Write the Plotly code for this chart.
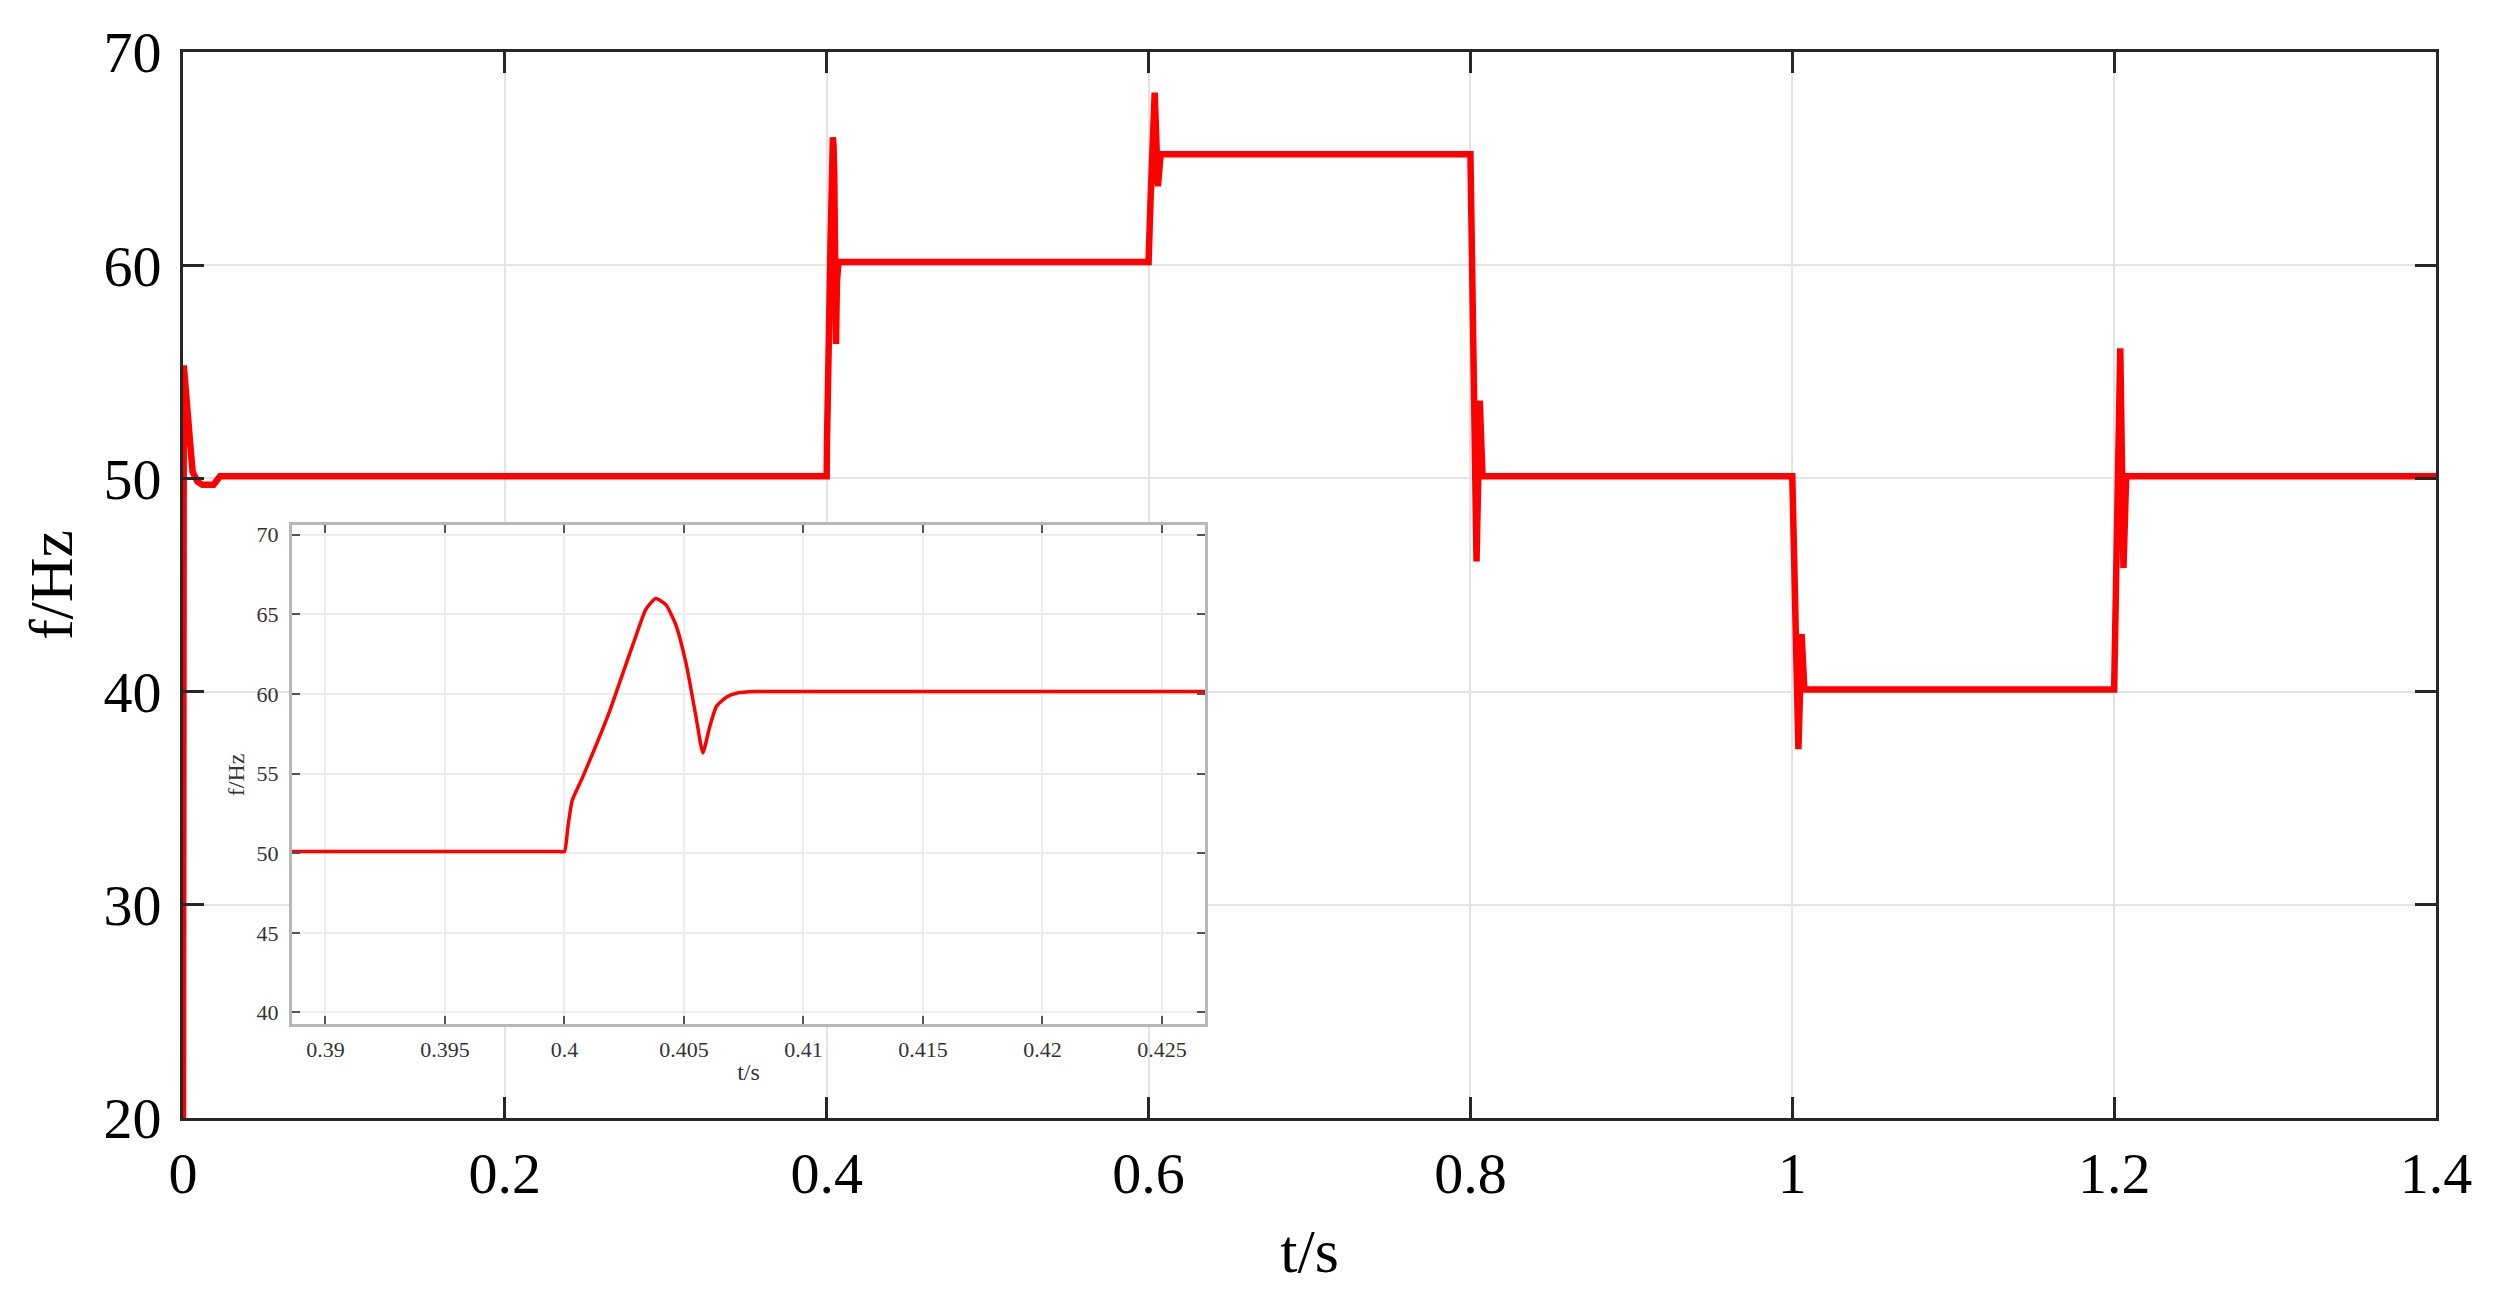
import plotly.graph_objects as go

# ---- data (t in s, f in Hz) ----
startup_t = [0.0, 0.0005, 0.0044, 0.006, 0.009, 0.012, 0.019, 0.023]
startup_f = [20.0, 55.3, 51.7, 50.3, 49.85, 49.7, 49.7, 50.1]

pre04_t = [0.385, 0.3998]
pre04_f = [50.1, 50.1]

step04_t = [0.4000, 0.40014, 0.40032, 0.40074, 0.4013, 0.40186, 0.40242, 0.40298,
            0.4034, 0.40382, 0.40425, 0.40467, 0.40509, 0.4055, 0.40579, 0.40607,
            0.40635, 0.40677, 0.40719, 0.40803]
step04_f = [50.1, 51.6, 53.3, 54.7, 56.7, 58.8, 61.2, 63.6,
            65.3, 66.0, 65.6, 64.3, 61.9, 58.6, 56.3, 57.9,
            59.2, 59.8, 60.05, 60.15]

post04_t = [0.4095, 0.43]
post04_f = [60.15, 60.15]

step06_t = [0.6, 0.6012, 0.6038, 0.6058, 0.6075]
step06_f = [60.15, 63.0, 68.1, 63.7, 65.2]

step08_t = [0.8, 0.8038, 0.8058, 0.8075]
step08_f = [65.2, 46.1, 53.65, 50.1]

step10_t = [1.0, 1.0038, 1.0058, 1.0075]
step10_f = [50.1, 37.3, 42.7, 40.1]

step12_t = [1.2, 1.2038, 1.2058, 1.2075]
step12_f = [40.1, 56.1, 45.8, 50.1]

end_t = [1.4]
end_f = [50.1]

main_xticks = [0, 0.2, 0.4, 0.6, 0.8, 1.0, 1.2, 1.4]
main_xlabels = ["0", "0.2", "0.4", "0.6", "0.8", "1", "1.2", "1.4"]
main_yticks = [20, 30, 40, 50, 60, 70]

inset_xticks = [0.39, 0.395, 0.4, 0.405, 0.41, 0.415, 0.42, 0.425]
inset_xlabels = ["0.39", "0.395", "0.4", "0.405", "0.41", "0.415", "0.42", "0.425"]
inset_yticks = [40, 45, 50, 55, 60, 65, 70]

t = (startup_t + pre04_t + step04_t + post04_t + step06_t + step08_t
     + step10_t + step12_t + end_t)
f = (startup_f + pre04_f + step04_f + post04_f + step06_f + step08_f
     + step10_f + step12_f + end_f)

inset_t = pre04_t + step04_t + post04_t
inset_f = pre04_f + step04_f + post04_f

FONT = "Liberation Serif, Times New Roman, serif"

fig = go.Figure()
fig.add_trace(go.Scatter(x=t, y=f, mode="lines", line=dict(color="#ff0000", width=6.5),
                         xaxis="x", yaxis="y", showlegend=False))
fig.add_trace(go.Scatter(x=inset_t, y=inset_f, mode="lines",
                         line=dict(color="#ff0000", width=3.5, shape="spline", smoothing=0.5),
                         xaxis="x2", yaxis="y2", showlegend=False))

OFF = 8  # page body margin offset
W, H = 2493, 1293
L, R, T, B = 183 - OFF, 57 + OFF, 48 - OFF, 175 + OFF
pw = W - L - R
ph = H - T - B

def px_to_dom_x(px):
    return (px - OFF - L) / pw

def px_to_dom_y(py):
    return (H - B - (py - OFF)) / ph

fig.update_layout(
    width=W, height=H,
    margin=dict(l=L, r=R, t=T, b=B, pad=0),
    paper_bgcolor="white", plot_bgcolor="white",
    font=dict(family=FONT, color="black"),
    xaxis=dict(
        range=[0, 1.4], domain=[0, 1],
        tickvals=main_xticks, ticktext=main_xlabels,
        ticks="inside", ticklen=21, tickwidth=2.5, tickcolor="#262626",
        showline=True, linecolor="#262626", linewidth=3, mirror="ticks",
        showgrid=True, gridcolor="#e4e4e4", gridwidth=2,
        zeroline=False,
        tickfont=dict(size=58, family=FONT, color="black"),
        ticklabelstandoff=2,
        title=dict(text="t/s", font=dict(size=62, family=FONT), standoff=25),
    ),
    yaxis=dict(
        range=[20, 70], domain=[0, 1],
        tickvals=main_yticks,
        ticks="inside", ticklen=21, tickwidth=2.5, tickcolor="#262626",
        showline=True, linecolor="#262626", linewidth=3, mirror="ticks",
        showgrid=True, gridcolor="#e4e4e4", gridwidth=2,
        zeroline=False,
        tickfont=dict(size=58, family=FONT, color="black"),
        ticklabelstandoff=7,
        title=dict(text="f/Hz", font=dict(size=62, family=FONT), standoff=11),
    ),
    xaxis2=dict(
        anchor="y2",
        domain=[px_to_dom_x(292), px_to_dom_x(1205)],
        range=[0.3886, 0.4268],
        tickvals=inset_xticks, ticktext=inset_xlabels,
        ticks="inside", ticklen=8, tickwidth=1.5, tickcolor="#555555",
        showline=True, linecolor="#b8b8b8", linewidth=3, mirror="ticks",
        showgrid=True, gridcolor="#ececec", gridwidth=1.5,
        zeroline=False,
        tickfont=dict(size=22, family=FONT, color="#333333"),
        ticklabelstandoff=3,
        title=dict(text="t/s", font=dict(size=24, family=FONT, color="#333333"), standoff=3),
    ),
    yaxis2=dict(
        anchor="x2",
        domain=[px_to_dom_y(1024), px_to_dom_y(523)],
        range=[39.25, 70.6],
        tickvals=inset_yticks,
        ticks="inside", ticklen=8, tickwidth=1.5, tickcolor="#555555",
        showline=True, linecolor="#b8b8b8", linewidth=3, mirror="ticks",
        showgrid=True, gridcolor="#ececec", gridwidth=1.5,
        zeroline=False,
        tickfont=dict(size=22, family=FONT, color="#333333"),
        ticklabelstandoff=6,
        title=dict(text="f/Hz", font=dict(size=24, family=FONT, color="#333333"), standoff=6),
    ),
)

fig.write_html("out.html")
